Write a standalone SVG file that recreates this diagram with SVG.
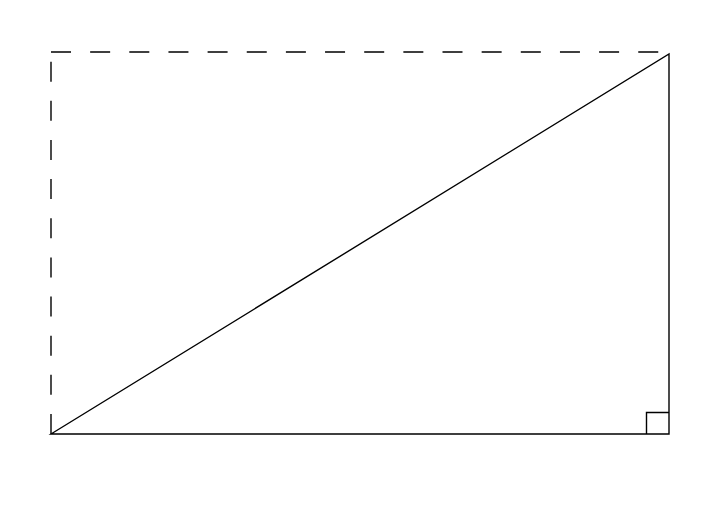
<svg xmlns="http://www.w3.org/2000/svg" width="728" height="514" viewBox="0 0 728 514">
<style>
.s{fill:none;stroke:#000;stroke-width:1.4;stroke-linecap:butt;stroke-linejoin:miter}
.d{stroke-dasharray:20 19.15}
</style>
<rect width="728" height="514" fill="#fff"/>
<g id="dashed">
<path class="s d" d="M51 52 H669"/>
<path class="s d" d="M51 434 V52"/>
</g>
<g id="triangle">
<path class="s" d="M51 434 L669 54 V434 Z"/>
<path class="s" d="M646.5 434 V412.5 H669"/>
</g>
</svg>
